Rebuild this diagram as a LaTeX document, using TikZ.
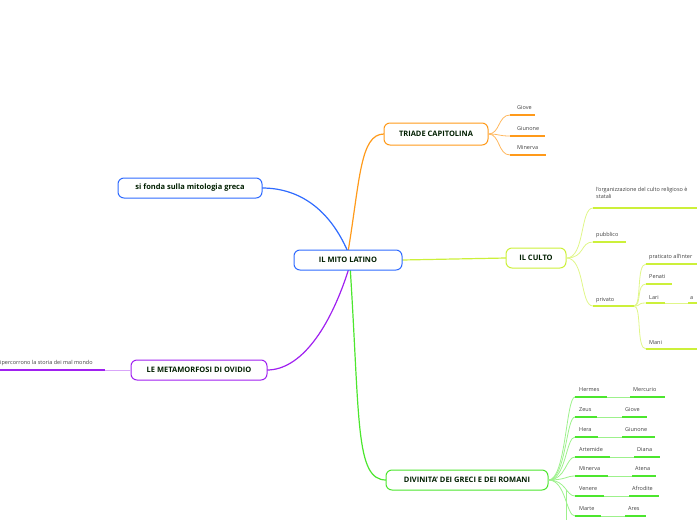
\documentclass[tikz,border=0pt]{standalone}
\usepackage{fontspec}
\setmainfont{Open Sans}
\begin{document}
\begin{tikzpicture}[x=1pt,y=-1pt,
  main/.style={draw,rounded corners=6pt,line width=1pt,fill=white,font=\fontsize{7.5}{9}\selectfont\bfseries,text=black!80!green!60!black,inner xsep=6pt,minimum height=20pt},
  leaf/.style={anchor=base west,inner sep=0pt,font=\fontsize{5.5}{7}\selectfont,text=black!75},
  ul/.style={line width=1.3pt},
  br/.style={line width=0.8pt}]
\useasboundingbox (0,0) rectangle (697,520);
\definecolor{cb}{HTML}{2F6BFF}\definecolor{co}{HTML}{FF9A1A}
\definecolor{cy}{HTML}{CCF03A}\definecolor{cp}{HTML}{A020F0}\definecolor{cg}{HTML}{4CE62E}
\colorlet{cyl}{cy!60}\colorlet{cgl}{cg!55}\colorlet{col}{co!70}
% central connectors
\coordinate (c0) at (348,252);
\coordinate (c1) at (350,265);
\draw[cb,line width=1.2pt] (c0) .. controls (330,210) and (300,188) .. (262,188);
\draw[co,line width=1.2pt] (c0) .. controls (360,180) and (360,134) .. (384,134);
\draw[cy,line width=1.2pt] (402,260) -- (506,258);
\draw[cp,line width=1.2pt] (c1) .. controls (330,330) and (300,370) .. (267,370);
\draw[cg,line width=1.2pt] (c1) .. controls (360,420) and (355,480) .. (386,480);
\node[main,draw=cb,minimum width=108pt] (m) at (348,260) {IL MITO LATINO};
\node[main,draw=co,minimum width=104pt,minimum height=22pt] (t) at (436,134) {TRIADE CAPITOLINA};
\node[main,draw=cb,minimum width=144pt] (s) at (190,188) {si fonda sulla mitologia greca};
\node[main,draw=cy,minimum width=60pt] (cu) at (536,258) {IL CULTO};
\node[main,draw=cp,minimum width=136pt] (o) at (199,370) {LE METAMORFOSI DI OVIDIO};
\node[main,draw=cg,minimum width=162pt] (d) at (467,480) {DIVINITA' DEI GRECI E DEI ROMANI};
% triade leaves
\foreach \n/\y/\w in {Giove/115/535,Giunone/136/545,Minerva/155/546}{
  \node[leaf] (t\n) at (517,\y-6) {\n};
  \coordinate (ts\n) at (510,\y);
  \draw[col,br] (t.east) .. controls (500,134) and (498,\y) .. (ts\n);
  \draw[co,ul] (ts\n) -- (\w,\y);}
% culto
\node[leaf,align=left,anchor=north west] (org) at (596,187) {l'organizzazione del culto religioso è\\statali};
\coordinate (org0) at (593,208);
\node[leaf] (pub) at (596,236) {pubblico};
\coordinate (pub0) at (593,242);
\node[leaf] (priv) at (596,301) {privato};
\coordinate (priv0) at (593,306); \coordinate (priv1) at (634,306);
\foreach \c/\y in {org0/208,pub0/242,priv0/306}
  \draw[cyl,br] (cu.east) .. controls (585,258) and (580,\y) .. (\c);
\draw[cy,ul] (org0) -- (697,208);
\draw[cy,ul] (pub0) -- (626,242);
\draw[cy,ul] (priv0) -- (priv1);
\node[leaf] (pi) at (649,258) {praticato all'inter};
\node[leaf] (pe) at (649,278) {Penati};
\node[leaf] (la) at (649,299) {Lari};
\node[leaf] (aa) at (690,299) {a};
\node[leaf] (ma) at (649,344) {Mani};
\foreach \y/\e in {264/697,284/672,303/665,349/697}{
  \coordinate (pv\y) at (646,\y);
  \draw[cyl,br] (priv1) .. controls (642,306) and (636,\y) .. (pv\y);
  \draw[cy,ul] (pv\y) -- (\e,\y);}
\draw[cyl,br] (665,303) -- (688,303);
\draw[cy,ul] (688,303) -- (697,303);
% ovidio
\node[leaf] (ip) at (0,364) {ipercorrono la storia dei mal mondo};
\coordinate (ip1) at (105,370);
\draw[cp,ul] (0,370) -- (ip1);
\draw[cp!40,br] (o.west) -- (ip1);
% divinita
\foreach \a/\b/\y/\ea/\bx/\eb in {Hermes/Mercurio/389/607/633/665,Zeus/Giove/409/597/625/647,Hera/Giunone/429/598/625/655,Artemide/Diana/449/610/637/660,Minerva/Atena/468/608/635/656,Venere/Afrodite/488/604/632/659,Marte/Ares/508/601/628/646}{
  \node[leaf] (g\a) at (579,\y+2) {\a};
  \node[leaf] (r\a) at (\bx,\y+2) {\b};
  \coordinate (gs\a) at (575,\y+8);
  \draw[cgl,br] (d.east) .. controls (566,480) and (566,\y+8) .. (gs\a);
  \draw[cg,ul] (gs\a) -- (\ea,\y+8);
  \draw[cgl,br] (\ea,\y+8) -- (\bx-3,\y+8);
  \draw[cg,ul] (\bx-3,\y+8) -- (\eb,\y+8);}
\draw[cgl,br] (566,490) -- (566,520);
\end{tikzpicture}
\end{document}
